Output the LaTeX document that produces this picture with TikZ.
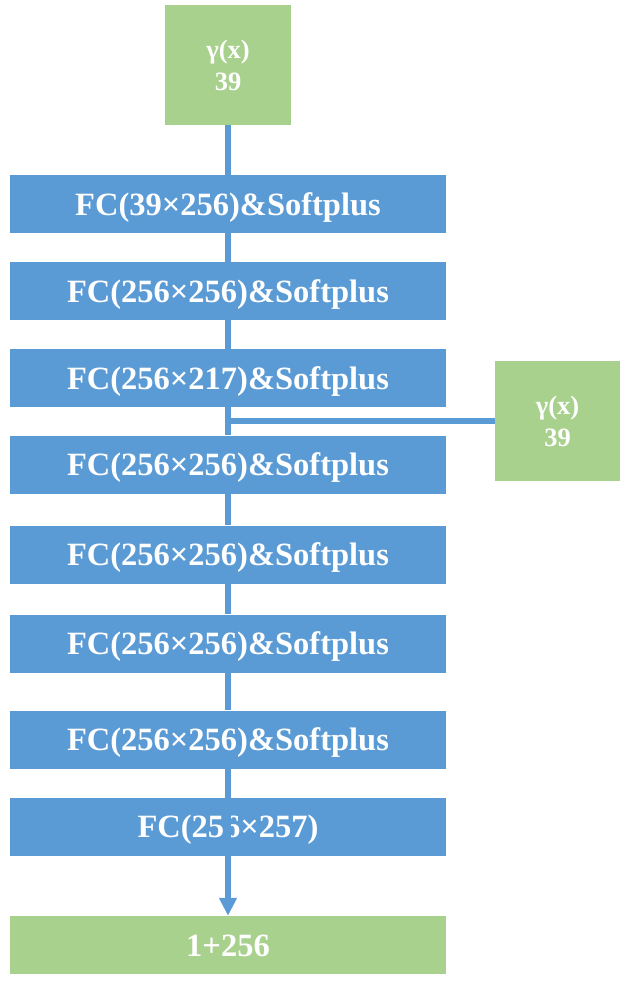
\documentclass[tikz,border=0pt]{standalone}
\usepackage{fontspec}
\setmainfont{Liberation Serif}
\usetikzlibrary{arrows.meta,backgrounds}
\definecolor{fcblue}{HTML}{5B9BD5}
\definecolor{ingreen}{HTML}{A9D18E}
\begin{document}
\begin{tikzpicture}[x=1pt,y=-1pt,
  fcbox/.style={fill=fcblue,draw=none,minimum width=436pt,minimum height=58pt,inner sep=0pt,
    text height=22pt,text depth=0pt,
    text=white,font=\bfseries\fontsize{32.5}{39}\selectfont},
  inbox/.style={fill=ingreen,draw=none,minimum width=126pt,minimum height=120pt,inner sep=0pt,
    text=white,align=center,font=\bfseries\fontsize{26.5}{32}\selectfont},
  outbox/.style={fill=ingreen,draw=none,minimum width=436pt,minimum height=58pt,inner sep=0pt,
    text height=22pt,text depth=0pt,
    text=white,font=\bfseries\fontsize{32.5}{39}\selectfont},
  link/.style={draw=fcblue,line width=6pt},
  hlink/.style={draw=fcblue,line width=5.5pt},
  arr/.style={draw=fcblue,line width=6pt,-{Triangle[width=17pt,length=18pt]}}]
\useasboundingbox (0,0) rectangle (627,982);
\node[inbox] (top) at (228,65) {γ(x)\\39};
\node[fcbox] (b1) at (228,204) {FC(39×256)\&Softplus};
\node[fcbox] (b2) at (228,291) {FC(256×256)\&Softplus};
\node[fcbox] (b3) at (228,378) {FC(256×217)\&Softplus};
\node[fcbox] (b4) at (228,464.5) {FC(256×256)\&Softplus};
\node[fcbox] (b5) at (228,554.5) {FC(256×256)\&Softplus};
\node[fcbox] (b6) at (228,643.5) {FC(256×256)\&Softplus};
\node[fcbox] (b7) at (228,739.5) {FC(256×256)\&Softplus};
\node[fcbox] (b8) at (228,826.5) {FC(256×257)};
\node[outbox] (out) at (228,945) {1+256};
\node[inbox,minimum width=125pt] (side) at (557.5,421) {γ(x)\\39};
\begin{scope}[on background layer]
  \draw[link] (top.south) -- (b1.north);
  \draw[link] (b1.south) -- (b2.north);
  \draw[link] (b2.south) -- (b3.north);
  \draw[link] (b3.south) -- (b4.north);
  \draw[link] (b4.south) -- (b5.north);
  \draw[link] (b5.south) -- (b6.north);
  \draw[link] (b6.south) -- (b7.north);
  \draw[hlink] (side.west) -- (side.west -| b3.south);
\end{scope}
\draw[arr] (b7.south) -- (out.north);
\end{tikzpicture}
\end{document}
